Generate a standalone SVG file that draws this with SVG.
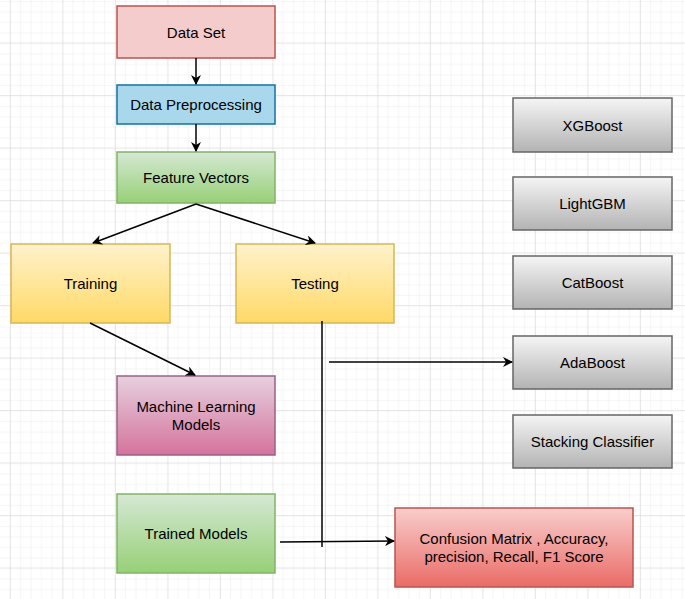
<svg xmlns="http://www.w3.org/2000/svg" width="685" height="599" viewBox="0 0 685 599">
<defs>
<pattern id="minor" width="10.5" height="10.5" patternUnits="userSpaceOnUse" x="10" y="-10"><path d="M10.5 0H0V10.5" fill="none" stroke="#ececec" stroke-width="1"/></pattern>
<pattern id="major" width="52.5" height="52.5" patternUnits="userSpaceOnUse" x="10" y="-10"><rect width="52.5" height="52.5" fill="url(#minor)"/><path d="M52.5 0H0V52.5" fill="none" stroke="#d6d6d6" stroke-width="1"/></pattern>
<linearGradient id="gG" x1="0" y1="0" x2="0" y2="1"><stop offset="0" stop-color="#d5e8d4"/><stop offset="1" stop-color="#97d077"/></linearGradient>
<linearGradient id="gY" x1="0" y1="0" x2="0" y2="1"><stop offset="0" stop-color="#fff2cc"/><stop offset="1" stop-color="#ffd966"/></linearGradient>
<linearGradient id="gP" x1="0" y1="0" x2="0" y2="1"><stop offset="0" stop-color="#e6d0de"/><stop offset="1" stop-color="#d5739d"/></linearGradient>
<linearGradient id="gS" x1="0" y1="0" x2="0" y2="1"><stop offset="0" stop-color="#f5f5f5"/><stop offset="1" stop-color="#b3b3b3"/></linearGradient>
<linearGradient id="gR" x1="0" y1="0" x2="0" y2="1"><stop offset="0" stop-color="#f8cecc"/><stop offset="1" stop-color="#ea6b66"/></linearGradient>
<marker id="arr" viewBox="0 0 10 10" refX="9" refY="5" markerWidth="10" markerHeight="10" markerUnits="userSpaceOnUse" orient="auto"><path d="M0 0L10 5L0 10L3 5Z" fill="#000"/></marker>
</defs>
<style>
text{font-family:"Liberation Sans",Arial,sans-serif;font-size:15px;fill:#000;text-anchor:middle;dominant-baseline:central}
rect{stroke-width:1.5}
.c{fill:none;stroke:#000;stroke-width:1.5}
</style>
<rect width="685" height="599" fill="#fff"/>
<rect width="685" height="599" fill="url(#major)"/>
<g id="dataset"><rect x="117" y="6" width="158" height="52" fill="#f4cccc" stroke="#b85450"/><text x="196" y="32">Data Set</text></g>
<g id="preproc"><rect x="117" y="85" width="158" height="39" fill="#a9d8ec" stroke="#10739e"/><text x="196" y="104.5">Data Preprocessing</text></g>
<g id="features"><rect x="117" y="152" width="158" height="51" fill="url(#gG)" stroke="#82b366"/><text x="196" y="177.5">Feature Vectors</text></g>
<g id="training"><rect x="11" y="244" width="159" height="79" fill="url(#gY)" stroke="#d6b656"/><text x="90.5" y="283.5">Training</text></g>
<g id="testing"><rect x="236" y="244" width="158" height="79" fill="url(#gY)" stroke="#d6b656"/><text x="315" y="283.5">Testing</text></g>
<g id="ml"><rect x="117" y="376" width="158" height="79" fill="url(#gP)" stroke="#996185"/><text x="196" y="406">Machine Learning</text><text x="196" y="424">Models</text></g>
<g id="trained"><rect x="117" y="494" width="158" height="79" fill="url(#gG)" stroke="#82b366"/><text x="196" y="533.5">Trained Models</text></g>
<g id="xgb"><rect x="513" y="98" width="159" height="54" fill="url(#gS)" stroke="#666"/><text x="592.5" y="125">XGBoost</text></g>
<g id="lgbm"><rect x="513" y="177" width="159" height="53" fill="url(#gS)" stroke="#666"/><text x="592.5" y="203.5">LightGBM</text></g>
<g id="cat"><rect x="513" y="256" width="159" height="53" fill="url(#gS)" stroke="#666"/><text x="592.5" y="282.5">CatBoost</text></g>
<g id="ada"><rect x="513" y="336" width="159" height="53" fill="url(#gS)" stroke="#666"/><text x="592.5" y="362.5">AdaBoost</text></g>
<g id="stack"><rect x="513" y="415" width="159" height="53" fill="url(#gS)" stroke="#666"/><text x="592.5" y="441.5">Stacking Classifier</text></g>
<g id="metrics"><rect x="395" y="508" width="238" height="79" fill="url(#gR)" stroke="#b85450"/><text x="514" y="538">Confusion Matrix , Accuracy,</text><text x="514" y="556">precision, Recall, F1 Score</text></g>
<g id="connectors">
<path class="c" d="M196 58V84" marker-end="url(#arr)"/>
<path class="c" d="M196 124V151" marker-end="url(#arr)"/>
<path class="c" d="M196 204L93 243" marker-end="url(#arr)"/>
<path class="c" d="M196 204L315 243" marker-end="url(#arr)"/>
<path class="c" d="M90 323L195 375" marker-end="url(#arr)"/>
<path class="c" d="M322 321V547"/>
<path class="c" d="M329 362H512" marker-end="url(#arr)"/>
<path class="c" d="M280 542L394 541" marker-end="url(#arr)"/>
</g>
</svg>
